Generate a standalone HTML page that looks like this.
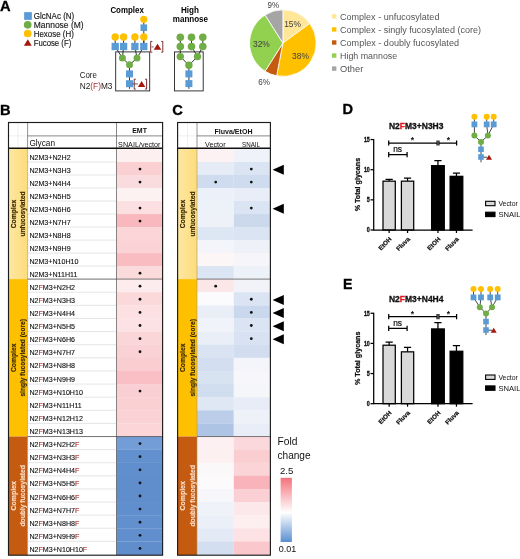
<!DOCTYPE html>
<html lang="en"><head><meta charset="utf-8"><title>Glycan figure</title>
<style>html,body{margin:0;padding:0;background:#fff}svg{display:block}text{font-family:"Liberation Sans", sans-serif}</style>
</head><body>
<svg width="520" height="559" viewBox="0 0 520 559">
<rect width="520" height="559" fill="#fff"/>
<text x="0.1" y="10.7" font-size="14.7" font-weight="bold" stroke="#000" stroke-width="0.3">A</text>
<text x="0.1" y="114.5" font-size="14.7" font-weight="bold" stroke="#000" stroke-width="0.3">B</text>
<text x="172.2" y="114.8" font-size="14.7" font-weight="bold" stroke="#000" stroke-width="0.3">C</text>
<text transform="translate(342.6 114.3) scale(0.96 1.01)" font-size="15.2" font-weight="bold" stroke="#000" stroke-width="0.35">D</text>
<text transform="translate(342.9 288.9) scale(0.93 0.97)" font-size="15.2" font-weight="bold" stroke="#000" stroke-width="0.35">E</text>
<rect x="24.15" y="12.15" width="7.7" height="7.7" fill="#5b9bd5"/>
<circle cx="27.7" cy="24.8" r="3.85" fill="#70ad47"/>
<circle cx="27.7" cy="33.5" r="3.85" fill="#ffc000"/>
<path d="M23.90 45.80L31.70 45.80L27.80 39.20Z" fill="#a5160d"/>
<g fill="#1a1a1a" stroke="#1a1a1a" stroke-width="0.15">
<text x="33.7" y="19.4" font-size="8.6" textLength="40.6" lengthAdjust="spacingAndGlyphs">GlcNAc (N)</text>
<text x="33.7" y="27.9" font-size="8.6" textLength="49.9" lengthAdjust="spacingAndGlyphs">Mannose (M)</text>
<text x="33.7" y="36.6" font-size="8.6" textLength="40.1" lengthAdjust="spacingAndGlyphs">Hexose (H)</text>
<text x="33.7" y="45.9" font-size="8.6" textLength="37.6" lengthAdjust="spacingAndGlyphs">Fucose (F)</text>
</g>
<text x="79.7" y="77.6" font-size="8.6" fill="#1a1a1a" textLength="17.2" lengthAdjust="spacingAndGlyphs">Core</text>
<text x="79.7" y="88.6" font-size="8.6" fill="#1a1a1a" textLength="32.8" lengthAdjust="spacingAndGlyphs">N2<tspan fill="#b03030">(F)</tspan>M3</text>
<text x="127.1" y="12.5" font-size="8.2" font-weight="bold" text-anchor="middle" textLength="33.4" lengthAdjust="spacingAndGlyphs">Complex</text>
<line x1="115.2" y1="37" x2="115.2" y2="46.5" stroke="#1a1a1a" stroke-width="0.9"/>
<line x1="123.6" y1="37" x2="123.6" y2="46.5" stroke="#1a1a1a" stroke-width="0.9"/>
<line x1="134.9" y1="37" x2="134.9" y2="46.5" stroke="#1a1a1a" stroke-width="0.9"/>
<line x1="143.8" y1="37" x2="143.8" y2="46.5" stroke="#1a1a1a" stroke-width="0.9"/>
<line x1="143.8" y1="19.3" x2="143.8" y2="46.5" stroke="#1a1a1a" stroke-width="0.9"/>
<line x1="115.2" y1="46.5" x2="122.4" y2="58.1" stroke="#1a1a1a" stroke-width="0.9"/>
<line x1="123.6" y1="46.5" x2="122.4" y2="58.1" stroke="#1a1a1a" stroke-width="0.9"/>
<line x1="134.9" y1="46.5" x2="137" y2="58.1" stroke="#1a1a1a" stroke-width="0.9"/>
<line x1="143.8" y1="46.5" x2="137" y2="58.1" stroke="#1a1a1a" stroke-width="0.9"/>
<line x1="122.4" y1="58.1" x2="129.5" y2="64.8" stroke="#1a1a1a" stroke-width="0.9"/>
<line x1="137" y1="58.1" x2="129.5" y2="64.8" stroke="#1a1a1a" stroke-width="0.9"/>
<line x1="129.5" y1="64.8" x2="129.5" y2="88.8" stroke="#1a1a1a" stroke-width="0.9"/>
<rect x="115.7" y="51.9" width="34" height="39" fill="none" stroke="#222" stroke-width="0.9"/>
<circle cx="143.8" cy="19.3" r="3.6" fill="#ffc000"/>
<rect x="140.50" y="24.40" width="6.6" height="6.6" fill="#5b9bd5"/>
<circle cx="115.2" cy="37" r="3.7" fill="#ffc000"/>
<rect x="111.55" y="42.85" width="7.3" height="7.3" fill="#5b9bd5"/>
<circle cx="123.6" cy="37" r="3.7" fill="#ffc000"/>
<rect x="119.95" y="42.85" width="7.3" height="7.3" fill="#5b9bd5"/>
<circle cx="134.9" cy="37" r="3.7" fill="#ffc000"/>
<rect x="131.25" y="42.85" width="7.3" height="7.3" fill="#5b9bd5"/>
<circle cx="143.8" cy="37" r="3.7" fill="#ffc000"/>
<rect x="140.15" y="42.85" width="7.3" height="7.3" fill="#5b9bd5"/>
<circle cx="122.4" cy="58.1" r="3.5" fill="#70ad47"/>
<circle cx="137" cy="58.1" r="3.5" fill="#70ad47"/>
<circle cx="129.5" cy="64.8" r="3.5" fill="#70ad47"/>
<rect x="126.00" y="70.40" width="7.0" height="7.0" fill="#5b9bd5"/>
<rect x="126.00" y="80.20" width="7.0" height="7.0" fill="#5b9bd5"/>
<line x1="132.7" y1="83.9" x2="137.8" y2="83.9" stroke="#6b1a1a" stroke-width="0.8"/>
<path d="M135.79999999999998 79.2H134.2V89.1H135.79999999999998M145.0 79.2H146.6V89.1H145.0" fill="none" stroke="#6b1a1a" stroke-width="0.9"/>
<path d="M137.90 87.00L145.30 87.00L141.60 81.00Z" fill="#a5160d"/>
<line x1="151.5" y1="46.9" x2="153.6" y2="46.9" stroke="#6b1a1a" stroke-width="0.8"/>
<path d="M152.29999999999998 41.4H150.7V52.2H152.29999999999998M161.20000000000002 41.4H162.8V52.2H161.20000000000002" fill="none" stroke="#6b1a1a" stroke-width="0.9"/>
<path d="M153.70 49.70L161.30 49.70L157.50 43.70Z" fill="#a5160d"/>
<text x="190" y="12.5" font-size="8.2" font-weight="bold" text-anchor="middle" textLength="18" lengthAdjust="spacingAndGlyphs">High</text>
<text x="190.4" y="22.1" font-size="8.2" font-weight="bold" text-anchor="middle" textLength="35.2" lengthAdjust="spacingAndGlyphs">mannose</text>
<line x1="180.3" y1="37.2" x2="180.3" y2="46.6" stroke="#1a1a1a" stroke-width="0.9"/>
<line x1="191.5" y1="37.2" x2="191.5" y2="46.6" stroke="#1a1a1a" stroke-width="0.9"/>
<line x1="202.8" y1="37.2" x2="202.8" y2="46.6" stroke="#1a1a1a" stroke-width="0.9"/>
<line x1="180.3" y1="46.5" x2="180.3" y2="56.6" stroke="#1a1a1a" stroke-width="0.9"/>
<line x1="191.5" y1="46.5" x2="197.5" y2="56.6" stroke="#1a1a1a" stroke-width="0.9"/>
<line x1="202.8" y1="46.5" x2="197.5" y2="56.6" stroke="#1a1a1a" stroke-width="0.9"/>
<line x1="180.3" y1="56.6" x2="188.9" y2="65.3" stroke="#1a1a1a" stroke-width="0.9"/>
<line x1="197.5" y1="56.6" x2="188.9" y2="65.3" stroke="#1a1a1a" stroke-width="0.9"/>
<line x1="188.9" y1="65.3" x2="188.9" y2="88.8" stroke="#1a1a1a" stroke-width="0.9"/>
<rect x="174.5" y="51.9" width="28.7" height="39" fill="none" stroke="#222" stroke-width="0.9"/>
<circle cx="180.3" cy="37.2" r="3.8" fill="#70ad47"/>
<circle cx="180.3" cy="46.6" r="3.8" fill="#70ad47"/>
<circle cx="191.5" cy="37.2" r="3.8" fill="#70ad47"/>
<circle cx="191.5" cy="46.6" r="3.8" fill="#70ad47"/>
<circle cx="202.8" cy="37.2" r="3.8" fill="#70ad47"/>
<circle cx="202.8" cy="46.6" r="3.8" fill="#70ad47"/>
<circle cx="180.3" cy="56.6" r="3.7" fill="#70ad47"/>
<circle cx="197.5" cy="56.6" r="3.7" fill="#70ad47"/>
<circle cx="188.9" cy="65.3" r="3.7" fill="#70ad47"/>
<rect x="185.40" y="70.40" width="7.0" height="7.0" fill="#5b9bd5"/>
<rect x="185.40" y="80.10" width="7.0" height="7.0" fill="#5b9bd5"/>
<path d="M282.9 43.1L282.90 9.80A33.3 33.3 0 0 1 309.84 23.53Z" fill="#ffe699" stroke="#fff" stroke-width="0.8" stroke-linejoin="round"/>
<path d="M282.9 43.1L309.84 23.53A33.3 33.3 0 0 1 276.66 75.81Z" fill="#ffc000" stroke="#fff" stroke-width="0.8" stroke-linejoin="round"/>
<path d="M282.9 43.1L276.66 75.81A33.3 33.3 0 0 1 265.06 71.22Z" fill="#c55a11" stroke="#fff" stroke-width="0.8" stroke-linejoin="round"/>
<path d="M282.9 43.1L265.06 71.22A33.3 33.3 0 0 1 265.06 14.98Z" fill="#92d050" stroke="#fff" stroke-width="0.8" stroke-linejoin="round"/>
<path d="M282.9 43.1L265.06 14.98A33.3 33.3 0 0 1 282.90 9.80Z" fill="#a5a5a5" stroke="#fff" stroke-width="0.8" stroke-linejoin="round"/>
<g fill="#404040" font-size="9.2" text-anchor="middle" lengthAdjust="spacingAndGlyphs">
<text x="273.4" y="7.7" textLength="11.6" lengthAdjust="spacingAndGlyphs">9%</text><text x="292.6" y="27.3" textLength="16.8" lengthAdjust="spacingAndGlyphs">15%</text><text x="300.5" y="59" textLength="16.8" lengthAdjust="spacingAndGlyphs">38%</text><text x="261.4" y="46.7" textLength="16.8" lengthAdjust="spacingAndGlyphs">32%</text><text x="264" y="85.1" textLength="11.6" lengthAdjust="spacingAndGlyphs">6%</text>
</g>
<rect x="332.0" y="14.20" width="4.4" height="4.4" fill="#ffe699"/>
<text x="340" y="19.6" font-size="8.5" fill="#555" textLength="99.4" lengthAdjust="spacingAndGlyphs">Complex - unfucosylated</text>
<rect x="332.0" y="27.25" width="4.4" height="4.4" fill="#ffc000"/>
<text x="340" y="32.65" font-size="8.5" fill="#555" textLength="141" lengthAdjust="spacingAndGlyphs">Complex - singly fucosylated (core)</text>
<rect x="332.0" y="40.30" width="4.4" height="4.4" fill="#c55a11"/>
<text x="340" y="45.7" font-size="8.5" fill="#555" textLength="119" lengthAdjust="spacingAndGlyphs">Complex - doubly fucosylated</text>
<rect x="332.0" y="53.35" width="4.4" height="4.4" fill="#92d050"/>
<text x="340" y="58.75" font-size="8.5" fill="#555" textLength="57.2" lengthAdjust="spacingAndGlyphs">High mannose</text>
<rect x="332.0" y="66.40" width="4.4" height="4.4" fill="#a5a5a5"/>
<text x="340" y="71.8" font-size="8.5" fill="#555" textLength="23.3" lengthAdjust="spacingAndGlyphs">Other</text>
<defs><linearGradient id="gunf" x1="0" x2="1" y1="0" y2="0"><stop offset="0" stop-color="#fee7a2"/><stop offset="1" stop-color="#fddc7c"/></linearGradient>
<linearGradient id="gfold" x1="0" x2="0" y1="0" y2="1"><stop offset="0" stop-color="#f4727b"/><stop offset="0.54" stop-color="#ffffff"/><stop offset="1" stop-color="#5a8fd2"/></linearGradient></defs>
<rect x="8.5" y="148.5" width="19.10" height="130.60" fill="url(#gunf)"/>
<rect x="8.5" y="279.10" width="19.10" height="157.44" fill="#ffc000"/>
<rect x="8.5" y="436.54" width="19.10" height="118.66" fill="#c55a11"/>
<text transform="translate(16.14 214.05) rotate(-90)" text-anchor="middle" font-size="7.5" font-weight="bold" fill="#3d2c00" stroke="#3d2c00" stroke-width="0.2" textLength="28.4" lengthAdjust="spacingAndGlyphs">Complex</text>
<text transform="translate(25.31 214.05) rotate(-90)" text-anchor="middle" font-size="7.5" font-weight="bold" fill="#3d2c00" stroke="#3d2c00" stroke-width="0.2" textLength="45" lengthAdjust="spacingAndGlyphs">unfucosylated</text>
<text transform="translate(16.14 357.82) rotate(-90)" text-anchor="middle" font-size="7.5" font-weight="bold" fill="#3d2c00" stroke="#3d2c00" stroke-width="0.2" textLength="28.4" lengthAdjust="spacingAndGlyphs">Complex</text>
<text transform="translate(25.31 357.82) rotate(-90)" text-anchor="middle" font-size="7.5" font-weight="bold" fill="#3d2c00" stroke="#3d2c00" stroke-width="0.2" textLength="77.6" lengthAdjust="spacingAndGlyphs">singly fucosylated (core)</text>
<text transform="translate(16.14 495.87) rotate(-90)" text-anchor="middle" font-size="7.5" font-weight="bold" fill="#fadcc6" stroke="#fadcc6" stroke-width="0.2" textLength="29.5" lengthAdjust="spacingAndGlyphs">Complex</text>
<text transform="translate(25.31 495.87) rotate(-90)" text-anchor="middle" font-size="7.5" font-weight="bold" fill="#fadcc6" stroke="#fadcc6" stroke-width="0.2" textLength="61.5" lengthAdjust="spacingAndGlyphs">doubly fucosylated</text>
<rect x="116.5" y="149.00" width="46.10" height="13.16" fill="#fdf0f1"/>
<rect x="116.5" y="162.01" width="46.10" height="13.16" fill="#fad0d3"/>
<rect x="116.5" y="175.02" width="46.10" height="13.16" fill="#fbdcde"/>
<rect x="116.5" y="188.03" width="46.10" height="13.16" fill="#fdf2f2"/>
<rect x="116.5" y="201.04" width="46.10" height="13.16" fill="#fcdfe1"/>
<rect x="116.5" y="214.05" width="46.10" height="13.16" fill="#f8b8bd"/>
<rect x="116.5" y="227.06" width="46.10" height="13.16" fill="#fbd5d8"/>
<rect x="116.5" y="240.07" width="46.10" height="13.16" fill="#fbd3d6"/>
<rect x="116.5" y="253.08" width="46.10" height="13.16" fill="#f9bcc1"/>
<rect x="116.5" y="266.09" width="46.10" height="13.16" fill="#fbdadc"/>
<rect x="116.5" y="279.10" width="46.10" height="13.27" fill="#fdeced"/>
<rect x="116.5" y="292.22" width="46.10" height="13.27" fill="#fbd8da"/>
<rect x="116.5" y="305.34" width="46.10" height="13.27" fill="#fce0e2"/>
<rect x="116.5" y="318.46" width="46.10" height="13.27" fill="#fce2e4"/>
<rect x="116.5" y="331.58" width="46.10" height="13.27" fill="#fbd6d9"/>
<rect x="116.5" y="344.70" width="46.10" height="13.27" fill="#fad2d5"/>
<rect x="116.5" y="357.82" width="46.10" height="13.27" fill="#facdd1"/>
<rect x="116.5" y="370.94" width="46.10" height="13.27" fill="#f9bfc4"/>
<rect x="116.5" y="384.06" width="46.10" height="13.27" fill="#facfd3"/>
<rect x="116.5" y="397.18" width="46.10" height="13.27" fill="#fad0d3"/>
<rect x="116.5" y="410.30" width="46.10" height="13.27" fill="#fad2d5"/>
<rect x="116.5" y="423.42" width="46.10" height="13.27" fill="#fbd5d8"/>
<rect x="116.5" y="436.54" width="46.10" height="13.25" fill="#729dd6"/>
<rect x="116.5" y="449.64" width="46.10" height="13.25" fill="#6391cf"/>
<rect x="116.5" y="462.74" width="46.10" height="13.25" fill="#618fce"/>
<rect x="116.5" y="475.84" width="46.10" height="13.25" fill="#608ecc"/>
<rect x="116.5" y="488.94" width="46.10" height="13.25" fill="#608ecc"/>
<rect x="116.5" y="502.04" width="46.10" height="13.25" fill="#618fcd"/>
<rect x="116.5" y="515.14" width="46.10" height="13.25" fill="#6290ce"/>
<rect x="116.5" y="528.24" width="46.10" height="13.25" fill="#618fcd"/>
<rect x="116.5" y="541.34" width="46.10" height="13.86" fill="#608ecc"/>
<g stroke="#d4d4d4" stroke-width="0.6">
<line x1="27.6" y1="162.01" x2="116.5" y2="162.01"/>
<line x1="27.6" y1="175.02" x2="116.5" y2="175.02"/>
<line x1="27.6" y1="188.03" x2="116.5" y2="188.03"/>
<line x1="27.6" y1="201.04" x2="116.5" y2="201.04"/>
<line x1="27.6" y1="214.05" x2="116.5" y2="214.05"/>
<line x1="27.6" y1="227.06" x2="116.5" y2="227.06"/>
<line x1="27.6" y1="240.07" x2="116.5" y2="240.07"/>
<line x1="27.6" y1="253.08" x2="116.5" y2="253.08"/>
<line x1="27.6" y1="266.09" x2="116.5" y2="266.09"/>
<line x1="27.6" y1="279.10" x2="116.5" y2="279.10"/>
<line x1="27.6" y1="292.22" x2="116.5" y2="292.22"/>
<line x1="27.6" y1="305.34" x2="116.5" y2="305.34"/>
<line x1="27.6" y1="318.46" x2="116.5" y2="318.46"/>
<line x1="27.6" y1="331.58" x2="116.5" y2="331.58"/>
<line x1="27.6" y1="344.70" x2="116.5" y2="344.70"/>
<line x1="27.6" y1="357.82" x2="116.5" y2="357.82"/>
<line x1="27.6" y1="370.94" x2="116.5" y2="370.94"/>
<line x1="27.6" y1="384.06" x2="116.5" y2="384.06"/>
<line x1="27.6" y1="397.18" x2="116.5" y2="397.18"/>
<line x1="27.6" y1="410.30" x2="116.5" y2="410.30"/>
<line x1="27.6" y1="423.42" x2="116.5" y2="423.42"/>
<line x1="27.6" y1="436.54" x2="116.5" y2="436.54"/>
<line x1="27.6" y1="449.64" x2="116.5" y2="449.64"/>
<line x1="27.6" y1="462.74" x2="116.5" y2="462.74"/>
<line x1="27.6" y1="475.84" x2="116.5" y2="475.84"/>
<line x1="27.6" y1="488.94" x2="116.5" y2="488.94"/>
<line x1="27.6" y1="502.04" x2="116.5" y2="502.04"/>
<line x1="27.6" y1="515.14" x2="116.5" y2="515.14"/>
<line x1="27.6" y1="528.24" x2="116.5" y2="528.24"/>
<line x1="27.6" y1="541.34" x2="116.5" y2="541.34"/>
<line x1="8.5" y1="135.9" x2="27.6" y2="135.9" stroke="#e4e4e4"/><line x1="18" y1="122.5" x2="18" y2="149.0" stroke="#e4e4e4"/>
</g>
<g font-size="7.1" fill="#111" stroke="#111" stroke-width="0.12">
<text x="29.4" y="159.60">N2M3+N2H2</text>
<text x="29.4" y="172.61">N2M3+N3H3</text>
<text x="29.4" y="185.62">N2M3+N4H4</text>
<text x="29.4" y="198.63">N2M3+N5H5</text>
<text x="29.4" y="211.64">N2M3+N6H6</text>
<text x="29.4" y="224.65">N2M3+N7H7</text>
<text x="29.4" y="237.66">N2M3+N8H8</text>
<text x="29.4" y="250.67">N2M3+N9H9</text>
<text x="29.4" y="263.68">N2M3+N10H10</text>
<text x="29.4" y="276.69">N2M3+N11H11</text>
<text x="29.4" y="289.70">N2<tspan fill="#b02a2a" stroke="#b02a2a">F</tspan>M3+N2H2</text>
<text x="29.4" y="302.82">N2<tspan fill="#b02a2a" stroke="#b02a2a">F</tspan>M3+N3H3</text>
<text x="29.4" y="315.94">N2<tspan fill="#b02a2a" stroke="#b02a2a">F</tspan>M3+N4H4</text>
<text x="29.4" y="329.06">N2<tspan fill="#b02a2a" stroke="#b02a2a">F</tspan>M3+N5H5</text>
<text x="29.4" y="342.18">N2<tspan fill="#b02a2a" stroke="#b02a2a">F</tspan>M3+N6H6</text>
<text x="29.4" y="355.30">N2<tspan fill="#b02a2a" stroke="#b02a2a">F</tspan>M3+N7H7</text>
<text x="29.4" y="368.42">N2<tspan fill="#b02a2a" stroke="#b02a2a">F</tspan>M3+N8H8</text>
<text x="29.4" y="381.54">N2<tspan fill="#b02a2a" stroke="#b02a2a">F</tspan>M3+N9H9</text>
<text x="29.4" y="394.66">N2<tspan fill="#b02a2a" stroke="#b02a2a">F</tspan>M3+N10H10</text>
<text x="29.4" y="407.78">N2<tspan fill="#b02a2a" stroke="#b02a2a">F</tspan>M3+N11H11</text>
<text x="29.4" y="420.90">N2<tspan fill="#b02a2a" stroke="#b02a2a">F</tspan>M3+N12H12</text>
<text x="29.4" y="434.02">N2<tspan fill="#b02a2a" stroke="#b02a2a">F</tspan>M3+N13H13</text>
<text x="29.4" y="447.14">N2<tspan fill="#b02a2a" stroke="#b02a2a">F</tspan>M3+N2H2<tspan fill="#b02a2a" stroke="#b02a2a">F</tspan></text>
<text x="29.4" y="460.24">N2<tspan fill="#b02a2a" stroke="#b02a2a">F</tspan>M3+N3H3<tspan fill="#b02a2a" stroke="#b02a2a">F</tspan></text>
<text x="29.4" y="473.34">N2<tspan fill="#b02a2a" stroke="#b02a2a">F</tspan>M3+N4H4<tspan fill="#b02a2a" stroke="#b02a2a">F</tspan></text>
<text x="29.4" y="486.44">N2<tspan fill="#b02a2a" stroke="#b02a2a">F</tspan>M3+N5H5<tspan fill="#b02a2a" stroke="#b02a2a">F</tspan></text>
<text x="29.4" y="499.54">N2<tspan fill="#b02a2a" stroke="#b02a2a">F</tspan>M3+N6H6<tspan fill="#b02a2a" stroke="#b02a2a">F</tspan></text>
<text x="29.4" y="512.64">N2<tspan fill="#b02a2a" stroke="#b02a2a">F</tspan>M3+N7H7<tspan fill="#b02a2a" stroke="#b02a2a">F</tspan></text>
<text x="29.4" y="525.74">N2<tspan fill="#b02a2a" stroke="#b02a2a">F</tspan>M3+N8H8<tspan fill="#b02a2a" stroke="#b02a2a">F</tspan></text>
<text x="29.4" y="538.84">N2<tspan fill="#b02a2a" stroke="#b02a2a">F</tspan>M3+N9H9<tspan fill="#b02a2a" stroke="#b02a2a">F</tspan></text>
<text x="29.4" y="551.94">N2<tspan fill="#b02a2a" stroke="#b02a2a">F</tspan>M3+N10H10<tspan fill="#b02a2a" stroke="#b02a2a">F</tspan></text>
</g>
<text x="29.4" y="146.2" font-size="8.9" fill="#111" textLength="25.6" lengthAdjust="spacingAndGlyphs">Glycan</text>
<text x="139.6" y="133.3" font-size="7" font-weight="bold" fill="#111" text-anchor="middle">EMT</text>
<text x="139.3" y="146.8" font-size="7.1" fill="#111" text-anchor="middle" textLength="42.4" lengthAdjust="spacingAndGlyphs">SNAIL/vector</text>
<circle cx="140" cy="169.05" r="1.4" fill="#111"/>
<circle cx="140" cy="182.06" r="1.4" fill="#111"/>
<circle cx="140" cy="208.08" r="1.4" fill="#111"/>
<circle cx="140" cy="221.09" r="1.4" fill="#111"/>
<circle cx="140" cy="273.14" r="1.4" fill="#111"/>
<circle cx="140" cy="286.15" r="1.4" fill="#111"/>
<circle cx="140" cy="299.27" r="1.4" fill="#111"/>
<circle cx="140" cy="312.39" r="1.4" fill="#111"/>
<circle cx="140" cy="325.51" r="1.4" fill="#111"/>
<circle cx="140" cy="338.63" r="1.4" fill="#111"/>
<circle cx="140" cy="351.75" r="1.4" fill="#111"/>
<circle cx="140" cy="391.11" r="1.4" fill="#111"/>
<circle cx="140" cy="443.59" r="1.4" fill="#111"/>
<circle cx="140" cy="456.69" r="1.4" fill="#111"/>
<circle cx="140" cy="469.79" r="1.4" fill="#111"/>
<circle cx="140" cy="482.89" r="1.4" fill="#111"/>
<circle cx="140" cy="495.99" r="1.4" fill="#111"/>
<circle cx="140" cy="509.09" r="1.4" fill="#111"/>
<circle cx="140" cy="522.18" r="1.4" fill="#111"/>
<circle cx="140" cy="535.28" r="1.4" fill="#111"/>
<circle cx="140" cy="548.38" r="1.4" fill="#111"/>
<g fill="none" stroke="#222">
<line x1="27.6" y1="135.9" x2="162.6" y2="135.9" stroke-width="0.7" stroke="#555"/>
<line x1="27.6" y1="122.5" x2="27.6" y2="149.0" stroke-width="0.7" stroke="#666"/>
<line x1="27.6" y1="149.0" x2="27.6" y2="555.20" stroke-width="0.6" stroke="#a89a6a"/>
<line x1="116.5" y1="122.5" x2="116.5" y2="555.20" stroke-width="0.7" stroke="#555"/>
<line x1="27.6" y1="279.10" x2="162.6" y2="279.10" stroke-width="0.7" stroke="#444"/>
<line x1="27.6" y1="436.54" x2="162.6" y2="436.54" stroke-width="0.7" stroke="#444"/>
<line x1="8.5" y1="148.3" x2="162.6" y2="148.3" stroke-width="1.5" stroke="#111"/>
<rect x="8.5" y="122.5" width="154.10" height="432.70" stroke-width="1.15" stroke="#1c1c1c"/>
</g>
<rect x="177.6" y="148.5" width="19.40" height="130.60" fill="url(#gunf)"/>
<rect x="177.6" y="279.10" width="19.40" height="157.44" fill="#ffc000"/>
<rect x="177.6" y="436.54" width="19.40" height="118.66" fill="#c55a11"/>
<text transform="translate(185.36 214.05) rotate(-90)" text-anchor="middle" font-size="7.5" font-weight="bold" fill="#3d2c00" stroke="#3d2c00" stroke-width="0.2" textLength="28.4" lengthAdjust="spacingAndGlyphs">Complex</text>
<text transform="translate(194.67 214.05) rotate(-90)" text-anchor="middle" font-size="7.5" font-weight="bold" fill="#3d2c00" stroke="#3d2c00" stroke-width="0.2" textLength="45" lengthAdjust="spacingAndGlyphs">unfucosylated</text>
<text transform="translate(185.36 357.82) rotate(-90)" text-anchor="middle" font-size="7.5" font-weight="bold" fill="#3d2c00" stroke="#3d2c00" stroke-width="0.2" textLength="28.4" lengthAdjust="spacingAndGlyphs">Complex</text>
<text transform="translate(194.67 357.82) rotate(-90)" text-anchor="middle" font-size="7.5" font-weight="bold" fill="#3d2c00" stroke="#3d2c00" stroke-width="0.2" textLength="77.6" lengthAdjust="spacingAndGlyphs">singly fucosylated (core)</text>
<text transform="translate(185.36 495.87) rotate(-90)" text-anchor="middle" font-size="7.5" font-weight="bold" fill="#fadcc6" stroke="#fadcc6" stroke-width="0.2" textLength="29.5" lengthAdjust="spacingAndGlyphs">Complex</text>
<text transform="translate(194.67 495.87) rotate(-90)" text-anchor="middle" font-size="7.5" font-weight="bold" fill="#fadcc6" stroke="#fadcc6" stroke-width="0.2" textLength="61.5" lengthAdjust="spacingAndGlyphs">doubly fucosylated</text>
<rect x="197" y="149.00" width="36.80" height="13.16" fill="#fcf2f4"/>
<rect x="233.8" y="149.00" width="36.60" height="13.16" fill="#f0f2f9"/>
<rect x="197" y="162.01" width="36.80" height="13.16" fill="#e6ecf6"/>
<rect x="233.8" y="162.01" width="36.60" height="13.16" fill="#dae4f2"/>
<rect x="197" y="175.02" width="36.80" height="13.16" fill="#cfdcef"/>
<rect x="233.8" y="175.02" width="36.60" height="13.16" fill="#cfdcef"/>
<rect x="197" y="188.03" width="36.80" height="13.16" fill="#ecf0f8"/>
<rect x="233.8" y="188.03" width="36.60" height="13.16" fill="#e8edf7"/>
<rect x="197" y="201.04" width="36.80" height="13.16" fill="#edf1f8"/>
<rect x="233.8" y="201.04" width="36.60" height="13.16" fill="#dbe4f2"/>
<rect x="197" y="214.05" width="36.80" height="13.16" fill="#eef1f8"/>
<rect x="233.8" y="214.05" width="36.60" height="13.16" fill="#ccd9ed"/>
<rect x="197" y="227.06" width="36.80" height="13.16" fill="#dde6f3"/>
<rect x="233.8" y="227.06" width="36.60" height="13.16" fill="#dbe4f3"/>
<rect x="197" y="240.07" width="36.80" height="13.16" fill="#f3f5fa"/>
<rect x="233.8" y="240.07" width="36.60" height="13.16" fill="#eef1f8"/>
<rect x="197" y="253.08" width="36.80" height="13.16" fill="#fcf6f7"/>
<rect x="233.8" y="253.08" width="36.60" height="13.16" fill="#f6f6fa"/>
<rect x="197" y="266.09" width="36.80" height="13.16" fill="#dbe5f3"/>
<rect x="233.8" y="266.09" width="36.60" height="13.16" fill="#edf1f8"/>
<rect x="197" y="279.10" width="36.80" height="13.27" fill="#fbe6e8"/>
<rect x="233.8" y="279.10" width="36.60" height="13.27" fill="#f1f3f9"/>
<rect x="197" y="292.22" width="36.80" height="13.27" fill="#fbfbfd"/>
<rect x="233.8" y="292.22" width="36.60" height="13.27" fill="#dbe4f3"/>
<rect x="197" y="305.34" width="36.80" height="13.27" fill="#e9eef7"/>
<rect x="233.8" y="305.34" width="36.60" height="13.27" fill="#cad8ed"/>
<rect x="197" y="318.46" width="36.80" height="13.27" fill="#f0f3f9"/>
<rect x="233.8" y="318.46" width="36.60" height="13.27" fill="#dbe4f3"/>
<rect x="197" y="331.58" width="36.80" height="13.27" fill="#eaeff7"/>
<rect x="233.8" y="331.58" width="36.60" height="13.27" fill="#d8e2f2"/>
<rect x="197" y="344.70" width="36.80" height="13.27" fill="#d9e3f2"/>
<rect x="233.8" y="344.70" width="36.60" height="13.27" fill="#d2deef"/>
<rect x="197" y="357.82" width="36.80" height="13.27" fill="#d3dff0"/>
<rect x="233.8" y="357.82" width="36.60" height="13.27" fill="#f4f5fa"/>
<rect x="197" y="370.94" width="36.80" height="13.27" fill="#d8e3f2"/>
<rect x="233.8" y="370.94" width="36.60" height="13.27" fill="#f7f7fb"/>
<rect x="197" y="384.06" width="36.80" height="13.27" fill="#d0ddef"/>
<rect x="233.8" y="384.06" width="36.60" height="13.27" fill="#f5f6fa"/>
<rect x="197" y="397.18" width="36.80" height="13.27" fill="#dfe7f4"/>
<rect x="233.8" y="397.18" width="36.60" height="13.27" fill="#e7ecf6"/>
<rect x="197" y="410.30" width="36.80" height="13.27" fill="#bbcde8"/>
<rect x="233.8" y="410.30" width="36.60" height="13.27" fill="#eef1f8"/>
<rect x="197" y="423.42" width="36.80" height="13.27" fill="#aec4e4"/>
<rect x="233.8" y="423.42" width="36.60" height="13.27" fill="#e8edf7"/>
<rect x="197" y="436.54" width="36.80" height="13.25" fill="#fcf0f2"/>
<rect x="233.8" y="436.54" width="36.60" height="13.25" fill="#fbd8db"/>
<rect x="197" y="449.64" width="36.80" height="13.25" fill="#fcf0f1"/>
<rect x="233.8" y="449.64" width="36.60" height="13.25" fill="#facdd1"/>
<rect x="197" y="462.74" width="36.80" height="13.25" fill="#fbf8fa"/>
<rect x="233.8" y="462.74" width="36.60" height="13.25" fill="#fbd4d7"/>
<rect x="197" y="475.84" width="36.80" height="13.25" fill="#fcfafb"/>
<rect x="233.8" y="475.84" width="36.60" height="13.25" fill="#f8b4ba"/>
<rect x="197" y="488.94" width="36.80" height="13.25" fill="#f7f6fa"/>
<rect x="233.8" y="488.94" width="36.60" height="13.25" fill="#fad0d4"/>
<rect x="197" y="502.04" width="36.80" height="13.25" fill="#eff2f9"/>
<rect x="233.8" y="502.04" width="36.60" height="13.25" fill="#fce8ea"/>
<rect x="197" y="515.14" width="36.80" height="13.25" fill="#ebeff7"/>
<rect x="233.8" y="515.14" width="36.60" height="13.25" fill="#fdeef0"/>
<rect x="197" y="528.24" width="36.80" height="13.25" fill="#e3eaf5"/>
<rect x="233.8" y="528.24" width="36.60" height="13.25" fill="#fce2e4"/>
<rect x="197" y="541.34" width="36.80" height="13.86" fill="#d3dff0"/>
<rect x="233.8" y="541.34" width="36.60" height="13.86" fill="#fac8cc"/>
<g stroke="#e4e4e4" stroke-width="0.6">
<line x1="177.6" y1="135.9" x2="197" y2="135.9"/><line x1="187.5" y1="122.5" x2="187.5" y2="149.0"/>
</g>
<text x="233.5" y="133.6" font-size="7.2" font-weight="bold" fill="#111" text-anchor="middle" textLength="38" lengthAdjust="spacingAndGlyphs">Fluva/EtOH</text>
<text x="215.3" y="147.0" font-size="7.1" fill="#111" text-anchor="middle" textLength="20.5" lengthAdjust="spacingAndGlyphs">Vector</text>
<text x="251" y="147.0" font-size="7.1" fill="#111" text-anchor="middle" textLength="18" lengthAdjust="spacingAndGlyphs">SNAIL</text>
<circle cx="215.7" cy="182.06" r="1.4" fill="#111"/>
<circle cx="215.7" cy="286.15" r="1.4" fill="#111"/>
<circle cx="251.3" cy="169.05" r="1.4" fill="#111"/>
<circle cx="251.3" cy="182.06" r="1.4" fill="#111"/>
<circle cx="251.3" cy="208.08" r="1.4" fill="#111"/>
<circle cx="251.3" cy="299.27" r="1.4" fill="#111"/>
<circle cx="251.3" cy="312.39" r="1.4" fill="#111"/>
<circle cx="251.3" cy="325.51" r="1.4" fill="#111"/>
<circle cx="251.3" cy="338.63" r="1.4" fill="#111"/>
<g fill="none" stroke="#222">
<line x1="197" y1="135.9" x2="270.4" y2="135.9" stroke-width="0.7" stroke="#555"/>
<line x1="197" y1="122.5" x2="197" y2="149.0" stroke-width="0.7" stroke="#666"/>
<line x1="197" y1="149.0" x2="197" y2="555.20" stroke-width="0.6" stroke="#a89a6a"/>
<line x1="197" y1="279.10" x2="270.4" y2="279.10" stroke-width="0.7" stroke="#444"/>
<line x1="197" y1="436.54" x2="270.4" y2="436.54" stroke-width="0.7" stroke="#444"/>
<line x1="177.6" y1="148.3" x2="270.4" y2="148.3" stroke-width="1.5" stroke="#111"/>
<rect x="177.6" y="122.5" width="92.80" height="432.70" stroke-width="1.15" stroke="#1c1c1c"/>
</g>
<path d="M272.6 169.75L283.8 164.75V174.75Z" fill="#000"/>
<path d="M272.6 208.78L283.8 203.78V213.78Z" fill="#000"/>
<path d="M272.6 299.97L283.8 294.97V304.97Z" fill="#000"/>
<path d="M272.6 313.09L283.8 308.09V318.09Z" fill="#000"/>
<path d="M272.6 326.21L283.8 321.21V331.21Z" fill="#000"/>
<path d="M272.6 339.33L283.8 334.33V344.33Z" fill="#000"/>
<text x="277.5" y="445.4" font-size="10.4" fill="#111" textLength="19.9" lengthAdjust="spacingAndGlyphs">Fold</text>
<text x="277.5" y="458.6" font-size="10.4" fill="#111" textLength="33.1" lengthAdjust="spacingAndGlyphs">change</text>
<text x="279.9" y="473.7" font-size="8.6" fill="#111" textLength="13.4" lengthAdjust="spacingAndGlyphs">2.5</text>
<rect x="280.6" y="477.8" width="11.3" height="64.2" fill="url(#gfold)"/>
<text x="278.7" y="551.6" font-size="8.6" fill="#111" textLength="17.5" lengthAdjust="spacingAndGlyphs">0.01</text>
<text x="416.2" y="128.60" font-size="8.5" font-weight="bold" text-anchor="middle" fill="#111" stroke="#111" stroke-width="0.3" textLength="54.6" lengthAdjust="spacingAndGlyphs">N2<tspan fill="#e8141c" stroke="#e8141c">F</tspan>M3+N3H3</text>
<text transform="translate(359.7 184.60) rotate(-90)" font-size="7" font-weight="bold" text-anchor="middle" fill="#111" stroke="#111" stroke-width="0.25" textLength="53.5" lengthAdjust="spacingAndGlyphs">% Total glycans</text>
<path d="M389.15 181.16V179.35M385.55 179.35H392.75" fill="none" stroke="#000" stroke-width="1.25"/>
<rect x="383.0" y="181.16" width="12.30" height="48.84" fill="#d9d9d9" stroke="#000" stroke-width="1.25"/>
<path d="M407.55 181.16V178.14M403.95 178.14H411.15" fill="none" stroke="#000" stroke-width="1.25"/>
<rect x="401.4" y="181.16" width="12.30" height="48.84" fill="#d9d9d9" stroke="#000" stroke-width="1.25"/>
<path d="M437.95 165.66V160.53M434.35 160.53H441.55" fill="none" stroke="#000" stroke-width="1.25"/>
<rect x="431.6" y="165.66" width="12.70" height="64.34" fill="#000" stroke="#000" stroke-width="1.25"/>
<path d="M456.45 176.33V173.02M452.85 173.02H460.05" fill="none" stroke="#000" stroke-width="1.25"/>
<rect x="450.1" y="176.33" width="12.70" height="53.67" fill="#000" stroke="#000" stroke-width="1.25"/>
<path d="M373.7 138.95V230.0H472.6" fill="none" stroke="#000" stroke-width="1.25"/>
<line x1="370.50" y1="230.00" x2="373.7" y2="230.00" stroke="#000" stroke-width="1.25"/>
<text x="369.80" y="232.30" font-size="6.3" font-weight="bold" text-anchor="end" fill="#111" stroke="#111" stroke-width="0.3" textLength="3.0" lengthAdjust="spacingAndGlyphs">0</text>
<line x1="370.50" y1="199.85" x2="373.7" y2="199.85" stroke="#000" stroke-width="1.25"/>
<text x="369.80" y="202.15" font-size="6.3" font-weight="bold" text-anchor="end" fill="#111" stroke="#111" stroke-width="0.3" textLength="3.0" lengthAdjust="spacingAndGlyphs">5</text>
<line x1="370.50" y1="169.70" x2="373.7" y2="169.70" stroke="#000" stroke-width="1.25"/>
<text x="369.80" y="172.00" font-size="6.3" font-weight="bold" text-anchor="end" fill="#111" stroke="#111" stroke-width="0.3" textLength="5.9" lengthAdjust="spacingAndGlyphs">10</text>
<line x1="370.50" y1="139.55" x2="373.7" y2="139.55" stroke="#000" stroke-width="1.25"/>
<text x="369.80" y="141.85" font-size="6.3" font-weight="bold" text-anchor="end" fill="#111" stroke="#111" stroke-width="0.3" textLength="5.9" lengthAdjust="spacingAndGlyphs">15</text>
<line x1="389.15" y1="230.0" x2="389.15" y2="233.0" stroke="#000" stroke-width="1.25"/>
<text transform="translate(392.05 239.60) rotate(-45)" font-size="6.3" font-weight="bold" text-anchor="end" fill="#111" stroke="#111" stroke-width="0.2">EtOH</text>
<line x1="407.55" y1="230.0" x2="407.55" y2="233.0" stroke="#000" stroke-width="1.25"/>
<text transform="translate(410.45 239.60) rotate(-45)" font-size="6.3" font-weight="bold" text-anchor="end" fill="#111" stroke="#111" stroke-width="0.2">Fluva</text>
<line x1="437.95" y1="230.0" x2="437.95" y2="233.0" stroke="#000" stroke-width="1.25"/>
<text transform="translate(440.85 239.60) rotate(-45)" font-size="6.3" font-weight="bold" text-anchor="end" fill="#111" stroke="#111" stroke-width="0.2">EtOH</text>
<line x1="456.45" y1="230.0" x2="456.45" y2="233.0" stroke="#000" stroke-width="1.25"/>
<text transform="translate(459.35 239.60) rotate(-45)" font-size="6.3" font-weight="bold" text-anchor="end" fill="#111" stroke="#111" stroke-width="0.2">Fluva</text>
<path d="M388.7 140.40V145.60M388.7 143.00H437.1M437.1 140.40V145.60" fill="none" stroke="#000" stroke-width="1.25"/>
<text x="412.40" y="143.40" font-size="8.5" font-weight="bold" text-anchor="middle" fill="#111">*</text>
<path d="M438.9 140.40V145.60M438.9 143.00H456.6M456.6 140.40V145.60" fill="none" stroke="#000" stroke-width="1.25"/>
<text x="448.40" y="143.40" font-size="8.5" font-weight="bold" text-anchor="middle" fill="#111">*</text>
<path d="M388.7 152.00V157.20M388.7 154.60H407.1M407.1 152.00V157.20" fill="none" stroke="#000" stroke-width="1.25"/>
<text x="397.60" y="152.00" font-size="8.4" text-anchor="middle" fill="#111" stroke="#111" stroke-width="0.2">ns</text>
<rect x="485.6" y="201.30" width="9.4" height="4.4" fill="#d9d9d9" stroke="#000" stroke-width="1.1"/>
<rect x="485.6" y="212.20" width="9.4" height="4.4" fill="#000" stroke="#000" stroke-width="1.1"/>
<text x="498.4" y="206.00" font-size="7.3" fill="#111" textLength="19.4" lengthAdjust="spacingAndGlyphs">Vector</text>
<text x="498.4" y="216.90" font-size="7.3" fill="#111" textLength="22" lengthAdjust="spacingAndGlyphs">SNAIL</text>
<line x1="474.4" y1="116.7" x2="474.4" y2="124.4" stroke="#1a1a1a" stroke-width="0.8"/>
<line x1="486.7" y1="116.7" x2="486.7" y2="124.4" stroke="#1a1a1a" stroke-width="0.8"/>
<line x1="493.7" y1="116.7" x2="493.7" y2="124.4" stroke="#1a1a1a" stroke-width="0.8"/>
<line x1="474.4" y1="124.4" x2="474.4" y2="135.6" stroke="#1a1a1a" stroke-width="0.8"/>
<line x1="486.7" y1="124.4" x2="487.9" y2="135.6" stroke="#1a1a1a" stroke-width="0.8"/>
<line x1="493.7" y1="124.4" x2="487.9" y2="135.6" stroke="#1a1a1a" stroke-width="0.8"/>
<line x1="474.4" y1="135.6" x2="481" y2="141.9" stroke="#1a1a1a" stroke-width="0.8"/>
<line x1="487.9" y1="135.6" x2="481" y2="141.9" stroke="#1a1a1a" stroke-width="0.8"/>
<line x1="481" y1="141.9" x2="481" y2="162.3" stroke="#1a1a1a" stroke-width="0.8"/>
<line x1="481" y1="157.2" x2="487" y2="157.2" stroke="#1a1a1a" stroke-width="0.8"/>
<circle cx="474.4" cy="116.7" r="3.0" fill="#ffc000"/>
<rect x="471.50" y="121.50" width="5.8" height="5.8" fill="#5b9bd5"/>
<circle cx="486.7" cy="116.7" r="3.0" fill="#ffc000"/>
<rect x="483.80" y="121.50" width="5.8" height="5.8" fill="#5b9bd5"/>
<circle cx="493.7" cy="116.7" r="3.0" fill="#ffc000"/>
<rect x="490.80" y="121.50" width="5.8" height="5.8" fill="#5b9bd5"/>
<circle cx="474.4" cy="135.6" r="3.0" fill="#70ad47"/>
<circle cx="487.9" cy="135.6" r="3.0" fill="#70ad47"/>
<circle cx="481" cy="141.9" r="3.0" fill="#70ad47"/>
<rect x="478.20" y="146.50" width="5.6" height="5.6" fill="#5b9bd5"/>
<rect x="478.20" y="154.20" width="5.6" height="5.6" fill="#5b9bd5"/>
<path d="M486.00 159.80L492.00 159.80L489.00 154.80Z" fill="#a5160d"/>
<text x="416.2" y="302.30" font-size="8.5" font-weight="bold" text-anchor="middle" fill="#111" stroke="#111" stroke-width="0.3" textLength="54.6" lengthAdjust="spacingAndGlyphs">N2<tspan fill="#e8141c" stroke="#e8141c">F</tspan>M3+N4H4</text>
<text transform="translate(359.7 358.30) rotate(-90)" font-size="7" font-weight="bold" text-anchor="middle" fill="#111" stroke="#111" stroke-width="0.25" textLength="53.5" lengthAdjust="spacingAndGlyphs">% Total glycans</text>
<path d="M389.15 345.21V342.19M385.55 342.19H392.75" fill="none" stroke="#000" stroke-width="1.25"/>
<rect x="383.0" y="345.21" width="12.30" height="58.49" fill="#d9d9d9" stroke="#000" stroke-width="1.25"/>
<path d="M407.55 351.84V347.32M403.95 347.32H411.15" fill="none" stroke="#000" stroke-width="1.25"/>
<rect x="401.4" y="351.84" width="12.30" height="51.86" fill="#d9d9d9" stroke="#000" stroke-width="1.25"/>
<path d="M437.95 328.93V322.60M434.35 322.60H441.55" fill="none" stroke="#000" stroke-width="1.25"/>
<rect x="431.6" y="328.93" width="12.70" height="74.77" fill="#000" stroke="#000" stroke-width="1.25"/>
<path d="M456.45 351.24V345.51M452.85 345.51H460.05" fill="none" stroke="#000" stroke-width="1.25"/>
<rect x="450.1" y="351.24" width="12.70" height="52.46" fill="#000" stroke="#000" stroke-width="1.25"/>
<path d="M373.7 312.65V403.7H472.6" fill="none" stroke="#000" stroke-width="1.25"/>
<line x1="370.50" y1="403.70" x2="373.7" y2="403.70" stroke="#000" stroke-width="1.25"/>
<text x="369.80" y="406.00" font-size="6.3" font-weight="bold" text-anchor="end" fill="#111" stroke="#111" stroke-width="0.3" textLength="3.0" lengthAdjust="spacingAndGlyphs">0</text>
<line x1="370.50" y1="373.55" x2="373.7" y2="373.55" stroke="#000" stroke-width="1.25"/>
<text x="369.80" y="375.85" font-size="6.3" font-weight="bold" text-anchor="end" fill="#111" stroke="#111" stroke-width="0.3" textLength="3.0" lengthAdjust="spacingAndGlyphs">5</text>
<line x1="370.50" y1="343.40" x2="373.7" y2="343.40" stroke="#000" stroke-width="1.25"/>
<text x="369.80" y="345.70" font-size="6.3" font-weight="bold" text-anchor="end" fill="#111" stroke="#111" stroke-width="0.3" textLength="5.9" lengthAdjust="spacingAndGlyphs">10</text>
<line x1="370.50" y1="313.25" x2="373.7" y2="313.25" stroke="#000" stroke-width="1.25"/>
<text x="369.80" y="315.55" font-size="6.3" font-weight="bold" text-anchor="end" fill="#111" stroke="#111" stroke-width="0.3" textLength="5.9" lengthAdjust="spacingAndGlyphs">15</text>
<line x1="389.15" y1="403.7" x2="389.15" y2="406.7" stroke="#000" stroke-width="1.25"/>
<text transform="translate(392.05 413.30) rotate(-45)" font-size="6.3" font-weight="bold" text-anchor="end" fill="#111" stroke="#111" stroke-width="0.2">EtOH</text>
<line x1="407.55" y1="403.7" x2="407.55" y2="406.7" stroke="#000" stroke-width="1.25"/>
<text transform="translate(410.45 413.30) rotate(-45)" font-size="6.3" font-weight="bold" text-anchor="end" fill="#111" stroke="#111" stroke-width="0.2">Fluva</text>
<line x1="437.95" y1="403.7" x2="437.95" y2="406.7" stroke="#000" stroke-width="1.25"/>
<text transform="translate(440.85 413.30) rotate(-45)" font-size="6.3" font-weight="bold" text-anchor="end" fill="#111" stroke="#111" stroke-width="0.2">EtOH</text>
<line x1="456.45" y1="403.7" x2="456.45" y2="406.7" stroke="#000" stroke-width="1.25"/>
<text transform="translate(459.35 413.30) rotate(-45)" font-size="6.3" font-weight="bold" text-anchor="end" fill="#111" stroke="#111" stroke-width="0.2">Fluva</text>
<path d="M388.7 314.10V319.30M388.7 316.70H437.1M437.1 314.10V319.30" fill="none" stroke="#000" stroke-width="1.25"/>
<text x="412.40" y="317.10" font-size="8.5" font-weight="bold" text-anchor="middle" fill="#111">*</text>
<path d="M438.9 314.10V319.30M438.9 316.70H456.6M456.6 314.10V319.30" fill="none" stroke="#000" stroke-width="1.25"/>
<text x="448.40" y="317.10" font-size="8.5" font-weight="bold" text-anchor="middle" fill="#111">*</text>
<path d="M388.7 325.70V330.90M388.7 328.30H407.1M407.1 325.70V330.90" fill="none" stroke="#000" stroke-width="1.25"/>
<text x="397.60" y="325.70" font-size="8.4" text-anchor="middle" fill="#111" stroke="#111" stroke-width="0.2">ns</text>
<rect x="485.6" y="375.00" width="9.4" height="4.4" fill="#d9d9d9" stroke="#000" stroke-width="1.1"/>
<rect x="485.6" y="385.90" width="9.4" height="4.4" fill="#000" stroke="#000" stroke-width="1.1"/>
<text x="498.4" y="379.70" font-size="7.3" fill="#111" textLength="19.4" lengthAdjust="spacingAndGlyphs">Vector</text>
<text x="498.4" y="390.60" font-size="7.3" fill="#111" textLength="22" lengthAdjust="spacingAndGlyphs">SNAIL</text>
<line x1="473.5" y1="289" x2="473.5" y2="297.4" stroke="#1a1a1a" stroke-width="0.8"/>
<line x1="481" y1="289" x2="481" y2="297.4" stroke="#1a1a1a" stroke-width="0.8"/>
<line x1="490.2" y1="289" x2="490.2" y2="297.4" stroke="#1a1a1a" stroke-width="0.8"/>
<line x1="497.7" y1="289" x2="497.7" y2="297.4" stroke="#1a1a1a" stroke-width="0.8"/>
<line x1="473.5" y1="297.4" x2="479.8" y2="307.2" stroke="#1a1a1a" stroke-width="0.8"/>
<line x1="481" y1="297.4" x2="479.8" y2="307.2" stroke="#1a1a1a" stroke-width="0.8"/>
<line x1="490.2" y1="297.4" x2="492" y2="307.2" stroke="#1a1a1a" stroke-width="0.8"/>
<line x1="497.7" y1="297.4" x2="492" y2="307.2" stroke="#1a1a1a" stroke-width="0.8"/>
<line x1="479.8" y1="307.2" x2="486" y2="313.5" stroke="#1a1a1a" stroke-width="0.8"/>
<line x1="492" y1="307.2" x2="486" y2="313.5" stroke="#1a1a1a" stroke-width="0.8"/>
<line x1="486" y1="313.5" x2="486" y2="335" stroke="#1a1a1a" stroke-width="0.8"/>
<line x1="486" y1="330.2" x2="492" y2="330.2" stroke="#1a1a1a" stroke-width="0.8"/>
<circle cx="473.5" cy="289" r="3.0" fill="#ffc000"/>
<rect x="470.60" y="294.50" width="5.8" height="5.8" fill="#5b9bd5"/>
<circle cx="481" cy="289" r="3.0" fill="#ffc000"/>
<rect x="478.10" y="294.50" width="5.8" height="5.8" fill="#5b9bd5"/>
<circle cx="490.2" cy="289" r="3.0" fill="#ffc000"/>
<rect x="487.30" y="294.50" width="5.8" height="5.8" fill="#5b9bd5"/>
<circle cx="497.7" cy="289" r="3.0" fill="#ffc000"/>
<rect x="494.80" y="294.50" width="5.8" height="5.8" fill="#5b9bd5"/>
<circle cx="479.8" cy="307.2" r="3.0" fill="#70ad47"/>
<circle cx="492" cy="307.2" r="3.0" fill="#70ad47"/>
<circle cx="486" cy="313.5" r="3.0" fill="#70ad47"/>
<rect x="483.20" y="318.80" width="5.6" height="5.6" fill="#5b9bd5"/>
<rect x="483.20" y="327.20" width="5.6" height="5.6" fill="#5b9bd5"/>
<path d="M490.70 332.80L496.70 332.80L493.70 327.80Z" fill="#a5160d"/>
</svg></body></html>
